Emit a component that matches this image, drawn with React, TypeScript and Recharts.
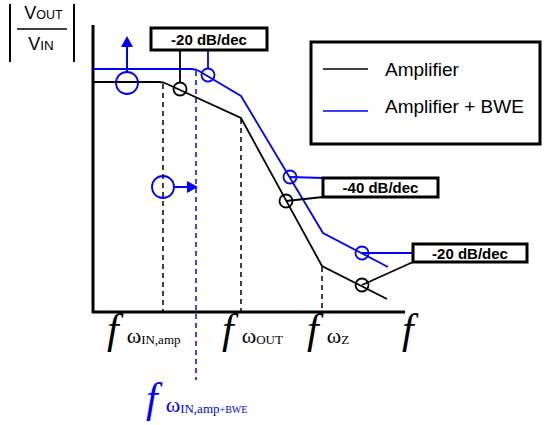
import React from "react";
import {
  ComposedChart,
  Line,
  Scatter,
  XAxis,
  YAxis,
  ReferenceDot,
  Customized,
} from "recharts";

const BLUE = "#0000ff";

// frame coordinates follow the picture: x to the right, y downward
const yAxisLine = [{ x: 93, y: 25 }, { x: 93, y: 313 }];
const xAxisLine = [{ x: 92, y: 312 }, { x: 405, y: 312 }];

const ampCurve = [
  { x: 93, y: 82 },
  { x: 159, y: 82 },
  { x: 163, y: 82.5 },
  { x: 167, y: 84 },
  { x: 241, y: 118 },
  { x: 322, y: 266 },
  { x: 387, y: 299 },
];
const bweCurve = [
  { x: 93, y: 69 },
  { x: 191, y: 69 },
  { x: 195, y: 69.5 },
  { x: 199, y: 71 },
  { x: 241, y: 96 },
  { x: 323, y: 233 },
  { x: 388, y: 267 },
];

const blackDashes = [
  [{ x: 163, y: 84 }, { x: 163, y: 311 }],
  [{ x: 241, y: 119 }, { x: 241, y: 311 }],
  [{ x: 322, y: 267 }, { x: 322, y: 311 }],
];
const blueDash = [{ x: 196, y: 71 }, { x: 196, y: 380 }];

const blackLinks = [
  [{ x: 180, y: 50 }, { x: 180, y: 83 }],
  [{ x: 286, y: 201 }, { x: 323, y: 197 }],
  [{ x: 362, y: 285 }, { x: 413, y: 262 }],
];
const blueLinks = [
  [{ x: 208, y: 50 }, { x: 208, y: 68 }],
  [{ x: 290, y: 177 }, { x: 323, y: 178 }],
  [{ x: 362, y: 253 }, { x: 413, y: 253 }],
];

const blackRings = [{ x: 180, y: 89 }, { x: 286, y: 201 }, { x: 362, y: 285 }];
const blueRings = [{ x: 208, y: 75 }, { x: 290, y: 177 }, { x: 362, y: 253 }];
const bigRings = [{ x: 127, y: 83 }, { x: 163, y: 187 }];

const arrowShafts = [
  [{ x: 127, y: 72 }, { x: 127, y: 42 }],
  [{ x: 174, y: 187 }, { x: 192, y: 187 }],
];
const arrowHeads = [
  { x: 127, y: 36, dir: "up" },
  { x: 198, y: 187, dir: "right" },
];

const slopeBoxes = [
  { x1: 151, x2: 267, y1: 28, y2: 50, label: "-20 dB/dec" },
  { x1: 323, x2: 438, y1: 178, y2: 197, label: "-40 dB/dec" },
  { x1: 413, x2: 527, y1: 244, y2: 262, label: "-20 dB/dec" },
];
const legendBox = { x1: 311, x2: 540, y1: 42, y2: 144 };
const legendItems = [
  { name: "Amplifier", color: "#000", lineY: 69, textY: 76 },
  { name: "Amplifier + BWE", color: BLUE, lineY: 111, textY: 113 },
];

const freqLabels = [
  { x: 107, y: 343, sub: "IN,amp", color: "#000" },
  { x: 222, y: 343, sub: "OUT", color: "#000" },
  { x: 307, y: 343, sub: "Z", color: "#000" },
  { x: 146, y: 412, sub: "IN,amp", extra: "+BWE", color: BLUE },
];

const rect = (b: { x1: number; x2: number; y1: number; y2: number }) => [
  { x: b.x1, y: b.y1 },
  { x: b.x2, y: b.y1 },
  { x: b.x2, y: b.y2 },
  { x: b.x1, y: b.y2 },
  { x: b.x1, y: b.y1 },
  { x: b.x2, y: b.y1 },
];

const Arrowhead = (props: any) => {
  const { cx, cy, payload } = props;
  const s = 6;
  const pts =
    payload.dir === "up"
      ? `${cx},${cy} ${cx - s},${cy + 11} ${cx + s},${cy + 11}`
      : `${cx},${cy} ${cx - 11},${cy - s} ${cx - 11},${cy + s}`;
  return <polygon points={pts} fill={BLUE} />;
};

const Labels = () => {
  const sans = "'Liberation Sans', Arial, sans-serif";
  const serif = "'Liberation Serif', 'Times New Roman', serif";
  return (
    <g>
      {/* |Vout / Vin| */}
      <line x1={10} y1={4} x2={10} y2={62} stroke="#000" strokeWidth={2} />
      <line x1={74} y1={4} x2={74} y2={62} stroke="#000" strokeWidth={2} />
      <line x1={17} y1={29} x2={67} y2={29} stroke="#000" strokeWidth={1.5} />
      <text x={43.5} y={19} textAnchor="middle" fontFamily={sans} fill="#000">
        <tspan fontSize={18}>V</tspan>
        <tspan fontSize={12.5}>OUT</tspan>
      </text>
      <text x={41} y={50} textAnchor="middle" fontFamily={sans} fill="#000">
        <tspan fontSize={18}>V</tspan>
        <tspan fontSize={13.5}>IN</tspan>
      </text>

      {slopeBoxes.map((b, i) => (
        <text
          key={i}
          x={(b.x1 + b.x2) / 2}
          y={(b.y1 + b.y2) / 2 + 5.5}
          textAnchor="middle"
          fontFamily={sans}
          fontWeight="bold"
          fontSize={15}
          fill="#000"
        >
          {b.label}
        </text>
      ))}

      {legendItems.map((it) => (
        <text key={it.name} x={385} y={it.textY} fontFamily={sans} fontSize={19} fill="#000">
          {it.name}
        </text>
      ))}

      {freqLabels.map((f, i) => (
        <text key={i} x={f.x} y={f.y} fontFamily={serif} fill={f.color}>
          <tspan fontStyle="italic" fontSize={42}>f</tspan>
          <tspan dx={8} fontSize={22}>ω</tspan>
          <tspan fontSize={13} dy={1}>{f.sub}</tspan>
          {f.extra && <tspan fontSize={10}>{f.extra}</tspan>}
        </text>
      ))}
      <text x={402} y={343} fontFamily={serif} fontStyle="italic" fontSize={42} fill="#000">
        f
      </text>
    </g>
  );
};

const seg = (data: any[], color: string, width: number, dash?: string, key?: string) => (
  <Line
    key={key}
    data={data}
    dataKey="y"
    type="linear"
    stroke={color}
    strokeWidth={width}
    strokeDasharray={dash}
    dot={false}
    activeDot={false}
    isAnimationActive={false}
  />
);

export default function App() {
  return (
    <div style={{ width: 550, height: 425 }}>
      <style>{`body{margin:0}`}</style>
      <ComposedChart width={550} height={425} margin={{ top: 0, right: 0, bottom: 0, left: 0 }}>
        <XAxis type="number" dataKey="x" domain={[0, 550]} hide allowDataOverflow />
        <YAxis type="number" dataKey="y" domain={[0, 425]} reversed hide allowDataOverflow />

        {blackDashes.map((d, i) => seg(d, "#000", 1.5, "5 4", "bd" + i))}
        {seg(blueDash, BLUE, 1.5, "5 4", "blue-dash")}
        {seg(yAxisLine, "#000", 3, undefined, "yaxis")}
        {seg(xAxisLine, "#000", 3, undefined, "xaxis")}
        {seg(ampCurve, "#000", 1.8, undefined, "amp")}
        {seg(bweCurve, BLUE, 1.8, undefined, "bwe")}
        {blackLinks.map((d, i) => seg(d, "#000", 1.8, undefined, "bl" + i))}
        {blueLinks.map((d, i) => seg(d, BLUE, 1.8, undefined, "ul" + i))}
        {arrowShafts.map((d, i) => seg(d, BLUE, 2, undefined, "as" + i))}
        {slopeBoxes.map((b, i) => seg(rect(b), "#000", 3, undefined, "box" + i))}
        {seg(rect(legendBox), "#000", 3, undefined, "legend-box")}
        {legendItems.map((it) =>
          seg([{ x: 323, y: it.lineY }, { x: 368, y: it.lineY }], it.color, 1.5, undefined, "lg" + it.name)
        )}

        {blackRings.map((p, i) => (
          <ReferenceDot key={"br" + i} x={p.x} y={p.y} r={6.5} fill="none" stroke="#000" strokeWidth={1.8} />
        ))}
        {blueRings.map((p, i) => (
          <ReferenceDot key={"ur" + i} x={p.x} y={p.y} r={6.5} fill="none" stroke={BLUE} strokeWidth={1.8} />
        ))}
        {bigRings.map((p, i) => (
          <ReferenceDot key={"gr" + i} x={p.x} y={p.y} r={11} fill="none" stroke={BLUE} strokeWidth={1.8} />
        ))}

        <Scatter data={arrowHeads} dataKey="y" shape={<Arrowhead />} isAnimationActive={false} />
        <Customized component={<Labels />} />
      </ComposedChart>
    </div>
  );
}
